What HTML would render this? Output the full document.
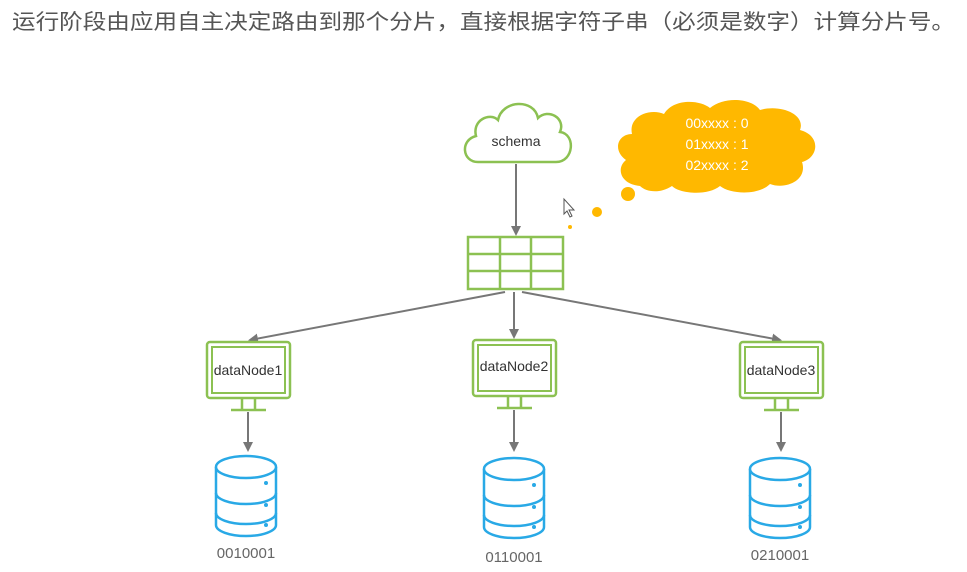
<!DOCTYPE html>
<html><head><meta charset="utf-8"><style>
html,body{margin:0;padding:0;background:#fff;}
svg{display:block}
text{font-family:"Liberation Sans","Noto Sans CJK SC",sans-serif;}
</style></head><body>
<svg width="967" height="572" viewBox="0 0 967 572" xmlns="http://www.w3.org/2000/svg">
<defs>
<marker id="ah" markerWidth="10" markerHeight="10" refX="8" refY="5" orient="auto" markerUnits="userSpaceOnUse">
<path d="M0,0 L10,5 L0,10 z" fill="#777"/></marker>
<g id="mon">
<rect x="0" y="0" width="83" height="56" rx="3" fill="#fff" stroke="#8cc152" stroke-width="2.5"/>
<rect x="5" y="5" width="73" height="46" fill="none" stroke="#8cc152" stroke-width="2"/>
<line x1="35" y1="57" x2="35" y2="67" stroke="#8cc152" stroke-width="2.5"/>
<line x1="48" y1="57" x2="48" y2="67" stroke="#8cc152" stroke-width="2.5"/>
<line x1="24" y1="68" x2="59" y2="68" stroke="#8cc152" stroke-width="2.5"/>
</g>
<g id="db" fill="#fff" stroke="#29a9e6" stroke-width="2.5">
<path d="M0,12 L0,70 A30,11 0 0 0 60,70 L60,12"/>
<ellipse cx="30" cy="12" rx="30" ry="11"/>
<path d="M0,38 A30,11 0 0 0 60,38" fill="none"/>
<path d="M0,58 A30,11 0 0 0 60,58" fill="none"/>
<circle cx="50" cy="28" r="2" fill="#29a9e6" stroke="none"/>
<circle cx="50" cy="50" r="2" fill="#29a9e6" stroke="none"/>
<circle cx="50" cy="70" r="2" fill="#29a9e6" stroke="none"/>
</g>
</defs>
<text x="12" y="29" font-size="21" fill="#555" textLength="943" lengthAdjust="spacingAndGlyphs">运行阶段由应用自主决定路由到那个分片，直接根据字符子串（必须是数字）计算分片号。</text>

<path d="M478,162 C462,162 460,140 476,136 C472,120 490,112 498,120 C502,100 534,98 538,118 C548,108 566,118 560,132 C576,134 574,162 556,162 Z" fill="#fff" stroke="#8cc152" stroke-width="2.5"/>
<text x="516" y="146" font-size="14" fill="#333" text-anchor="middle">schema</text>
<line x1="516" y1="164" x2="516" y2="234" stroke="#777" stroke-width="2" marker-end="url(#ah)"/>

<g fill="none" stroke="#8cc152" stroke-width="2.5">
<rect x="468" y="237" width="95" height="52"/>
<line x1="500" y1="237" x2="500" y2="289"/><line x1="531" y1="237" x2="531" y2="289"/>
<line x1="468" y1="254" x2="563" y2="254"/><line x1="468" y1="271" x2="563" y2="271"/>
</g>

<path d="M640,186 C620,184 616,168 626,160 C612,150 618,134 632,134 C628,116 650,108 664,114 C674,98 700,100 710,108 C724,96 752,98 760,110 C780,104 806,114 800,130 C822,136 818,158 802,162 C808,180 786,190 770,184 C758,196 730,194 720,186 C708,196 680,194 672,186 C660,194 646,192 640,186 Z" fill="#ffb800"/>
<g font-size="14" fill="#fff" text-anchor="middle">
<text x="717" y="128">00xxxx : 0</text>
<text x="717" y="149">01xxxx : 1</text>
<text x="717" y="170">02xxxx : 2</text>
</g>
<circle cx="628" cy="194" r="7" fill="#ffb800"/>
<circle cx="597" cy="212" r="5" fill="#ffb800"/>
<circle cx="570" cy="227" r="2" fill="#ffb800"/>

<path d="M564,199 L564,214 L567,211 L570,217 L572,216 L569,210 L574,210 Z" fill="#fff" stroke="#555" stroke-width="1"/>

<g stroke="#777" stroke-width="2">
<line x1="505" y1="292" x2="250" y2="340" marker-end="url(#ah)"/>
<line x1="514" y1="292" x2="514" y2="337" marker-end="url(#ah)"/>
<line x1="522" y1="292" x2="780" y2="340" marker-end="url(#ah)"/>
</g>

<use href="#mon" x="207" y="342"/>
<use href="#mon" x="473" y="340"/>
<use href="#mon" x="740" y="342"/>
<g font-size="14" fill="#333" text-anchor="middle">
<text x="248" y="375">dataNode1</text>
<text x="514" y="371">dataNode2</text>
<text x="781" y="375">dataNode3</text>
</g>

<g stroke="#777" stroke-width="2">
<line x1="248" y1="412" x2="248" y2="450" marker-end="url(#ah)"/>
<line x1="514" y1="410" x2="514" y2="450" marker-end="url(#ah)"/>
<line x1="781" y1="412" x2="781" y2="450" marker-end="url(#ah)"/>
</g>

<use href="#db" x="216" y="455"/>
<use href="#db" x="484" y="457"/>
<use href="#db" x="750" y="457"/>
<g font-size="15" fill="#666" text-anchor="middle">
<text x="246" y="558">0010001</text>
<text x="514" y="562">0110001</text>
<text x="780" y="560">0210001</text>
</g>
</svg>
</body></html>
